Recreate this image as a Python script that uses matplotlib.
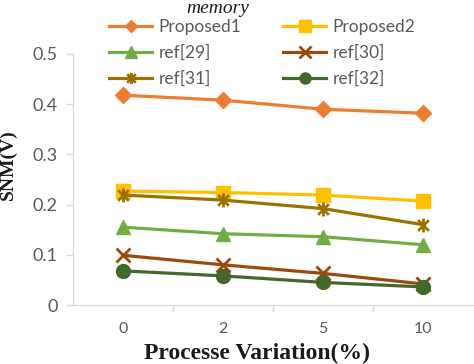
import matplotlib.pyplot as plt
import numpy as np
from matplotlib.path import Path

variation = ["0", "2", "5", "10"]
series_names = ["Proposed1", "Proposed2", "ref[29]", "ref[30]", "ref[31]", "ref[32]"]
proposed1 = [0.418, 0.408, 0.390, 0.382]
proposed2 = [0.227, 0.224, 0.219, 0.207]
ref29 = [0.155, 0.142, 0.136, 0.120]
ref30 = [0.099, 0.080, 0.063, 0.042]
ref31 = [0.219, 0.209, 0.192, 0.160]
ref32 = [0.068, 0.058, 0.045, 0.036]

# excel-style asterisk: an x with a vertical bar
star = Path([(-1, -1), (1, 1), (-1, 1), (1, -1), (0, -1.3), (0, 1.3)],
            [Path.MOVETO, Path.LINETO, Path.MOVETO, Path.LINETO, Path.MOVETO, Path.LINETO])

styles = [
    ("#ED7D31", "D", 8),
    ("#FFC000", "s", 10),
    ("#70AD47", "^", 10),
    ("#9E480E", "x", 10),
    ("#997300", star, 10),
    ("#43682B", "o", 10),
]
all_values = [proposed1, proposed2, ref29, ref30, ref31, ref32]

plt.rcParams['font.family'] = ['Lato', 'DejaVu Sans']
fig = plt.figure(figsize=(4.74, 3.64), dpi=100)
ax = fig.add_axes([73 / 474, 1 - 305 / 364, 400 / 474, 251 / 364])

x = np.arange(len(variation))
lines = []
for name, vals, (col, mk, ms) in zip(series_names, all_values, styles):
    kw = dict(markerfacecolor=col, markeredgecolor=col)
    if mk in ("x",) or mk is star:
        kw = dict(markerfacecolor='none', markeredgecolor=col, markeredgewidth=2)
    ln, = ax.plot(x, vals, color=col, linewidth=2.3, marker=mk, markersize=ms, label=name, **kw)
    lines.append(ln)

ax.set_xlim(-0.5, 3.5)
ax.set_ylim(0, 0.5)
ax.set_yticks(np.arange(0, 0.51, 0.1))
ax.set_yticklabels(["0", "0.1", "0.2", "0.3", "0.4", "0.5"])
ax.set_xticks(x)
ax.set_xticklabels(variation)
ax.set_xticks([0.5, 1.5, 2.5], minor=True)
ax.tick_params(axis='x', which='major', length=0, pad=12, labelsize=11.5, labelcolor='#595959')
ax.tick_params(axis='x', which='minor', length=5, color='#d9d9d9', width=1)
ax.tick_params(axis='y', length=5, color='#d9d9d9', width=1, labelsize=13, labelcolor='#595959', pad=6)
for s in ['top', 'right']:
    ax.spines[s].set_visible(False)
ax.spines['left'].set_color('#d9d9d9')
ax.spines['bottom'].set_color('#d9d9d9')

ax.set_xlabel("Processe Variation(%)", family='Liberation Serif', fontweight='bold',
              fontsize=17, color='#1a1a1a')
ax.xaxis.set_label_coords((257 - 73) / 400, -38 / 251)
fig.text(0.0, 1 - 165 / 364, "SNM(V)", rotation=90, family='Liberation Serif',
         fontweight='bold', fontsize=14, color='#1a1a1a', va='center', ha='left')
fig.text(218 / 474, 1.0, "memory", family='Liberation Serif', style='italic',
         fontsize=14, color='#1a1a1a', ha='center', va='top')

# row-wise order like the original legend
order = [0, 2, 4, 1, 3, 5]
leg = fig.legend([lines[i] for i in order], [series_names[i] for i in order],
                 loc='center', bbox_to_anchor=(262 / 474, 1 - 53 / 364), ncol=2,
                 frameon=False, fontsize=12.5, handlelength=2.5, handletextpad=0.35,
                 columnspacing=2.4, labelspacing=0.55, markerscale=0.8)
for t in leg.get_texts():
    t.set_color('#595959')

fig.savefig("out.png", dpi=100)
